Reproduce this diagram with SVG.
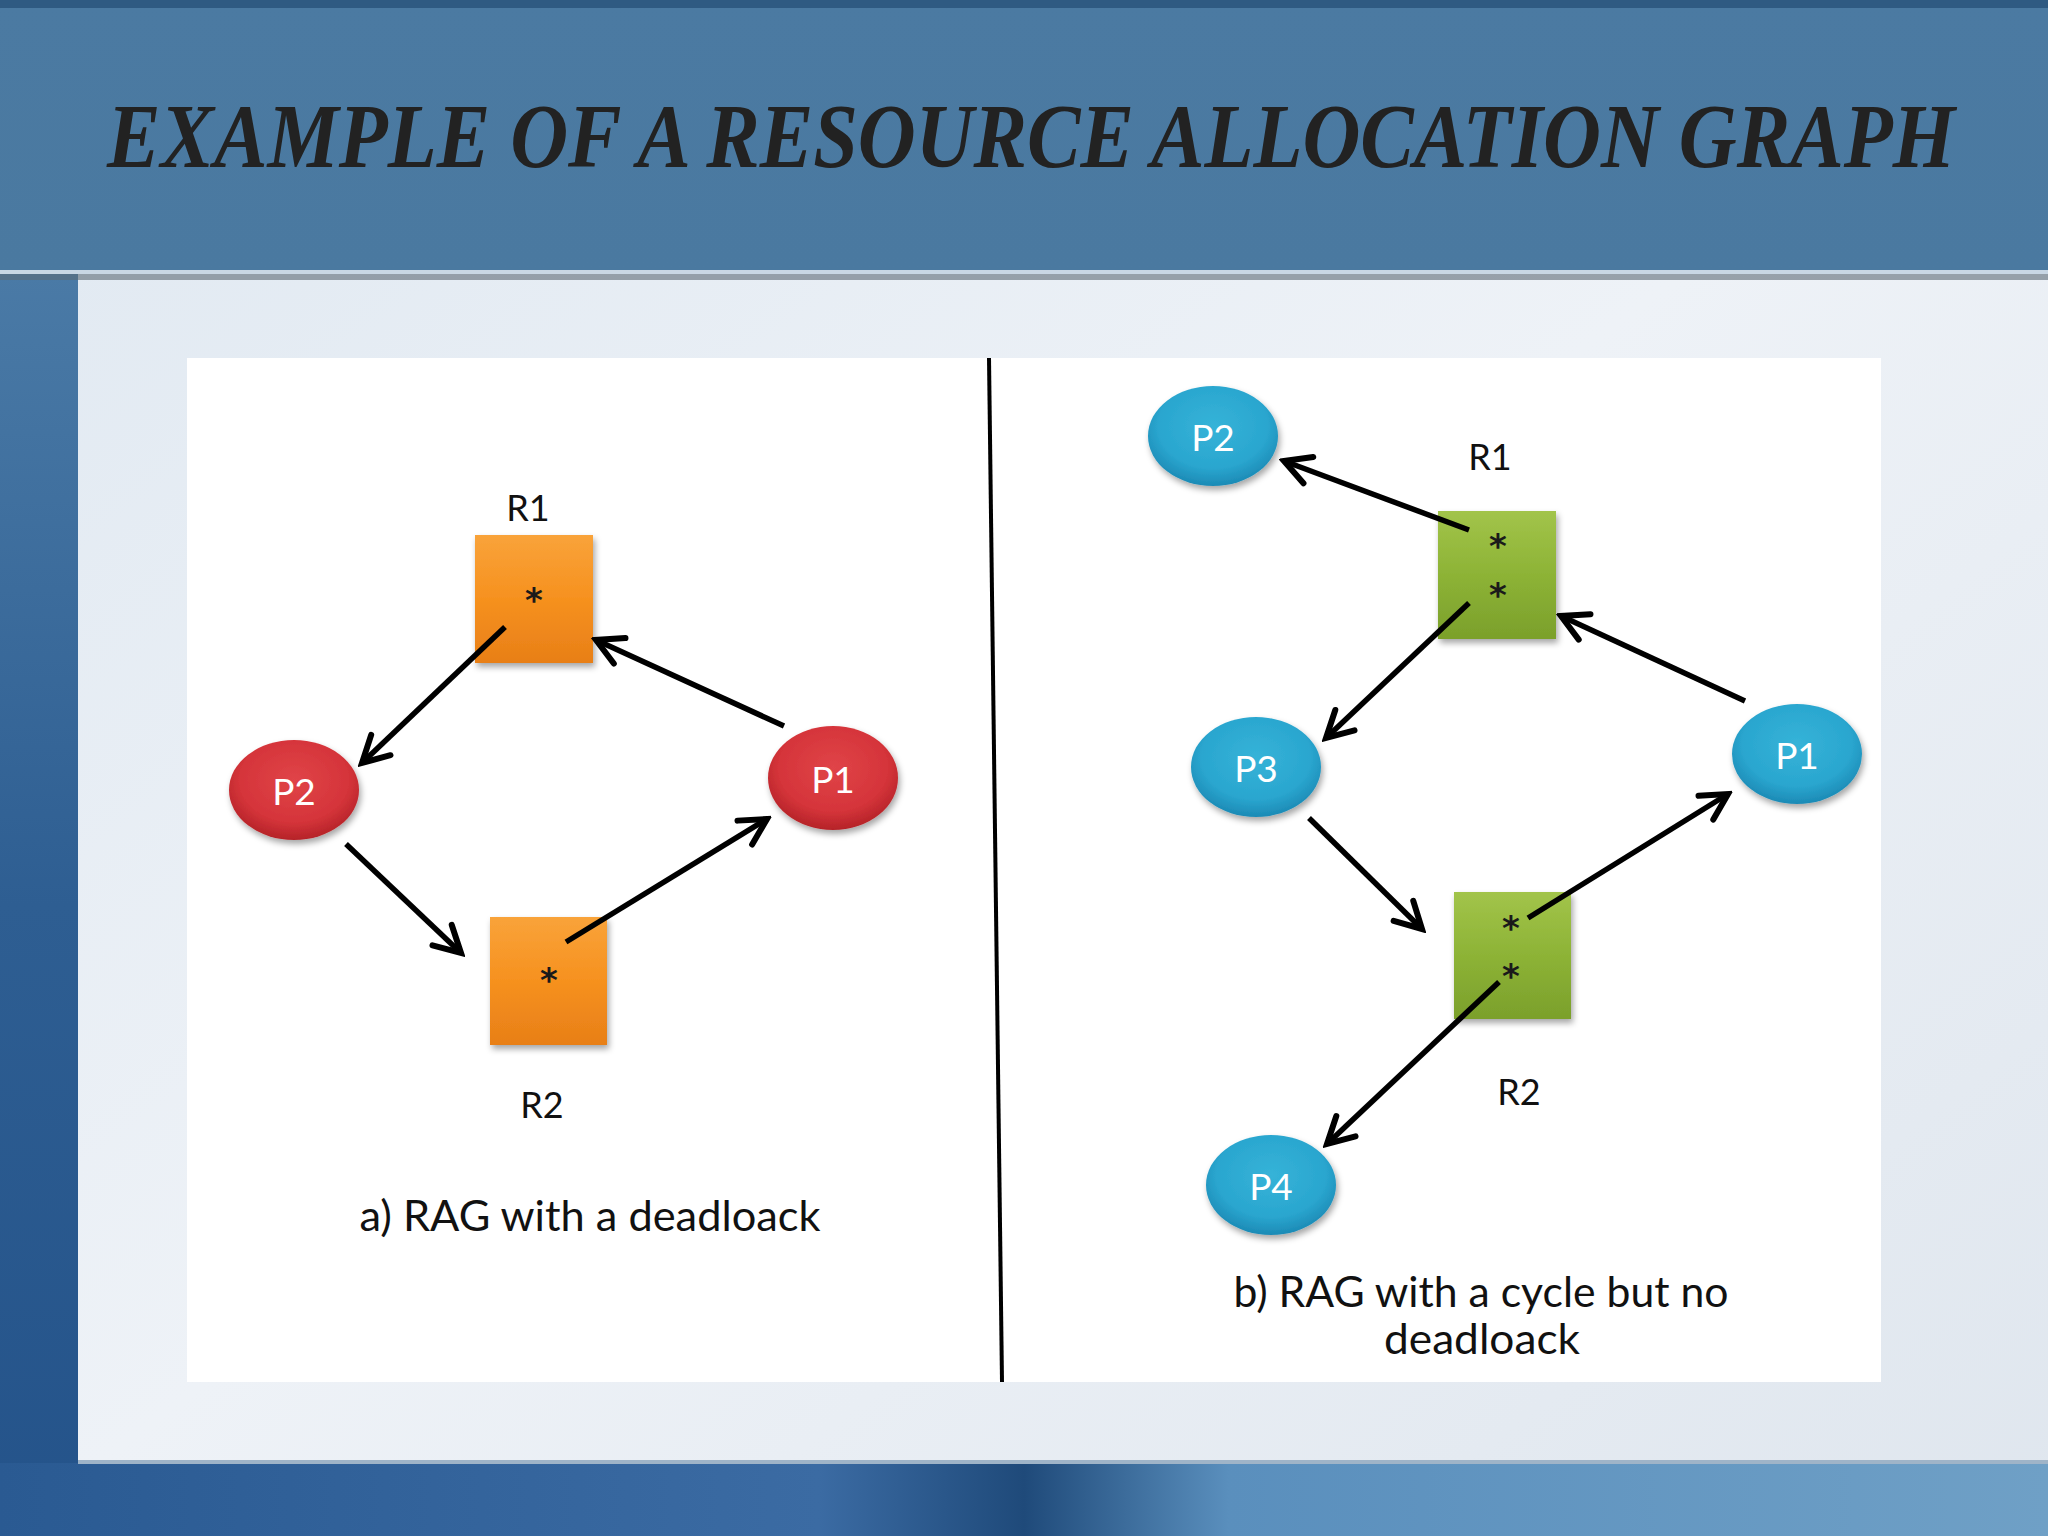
<svg xmlns="http://www.w3.org/2000/svg" width="2048" height="1536" viewBox="0 0 2048 1536">
<defs>
<linearGradient id="leftStrip" x1="0" y1="0" x2="0" y2="1">
<stop offset="0" stop-color="#4a7aa6"/><stop offset="0.5" stop-color="#2e5e92"/><stop offset="1" stop-color="#24538a"/>
</linearGradient>
<linearGradient id="bottomStrip" x1="0" y1="0" x2="1" y2="0">
<stop offset="0" stop-color="#2a5a92"/><stop offset="0.4" stop-color="#3b6ba3"/><stop offset="0.5" stop-color="#1f4a7a"/><stop offset="0.6" stop-color="#5a8fbd"/><stop offset="1" stop-color="#6fa0c6"/>
</linearGradient>
<linearGradient id="slideBg" x1="0" y1="0" x2="1" y2="1">
<stop offset="0" stop-color="#dfe8f1"/><stop offset="0.5" stop-color="#eef2f7"/><stop offset="1" stop-color="#dfe6ee"/>
</linearGradient>
<linearGradient id="header" x1="0" y1="0" x2="0" y2="1">
<stop offset="0" stop-color="#4b7aa2"/><stop offset="1" stop-color="#4a79a0"/>
</linearGradient>
<linearGradient id="orange" x1="0" y1="0" x2="0" y2="1">
<stop offset="0" stop-color="#f9a33a"/><stop offset="0.5" stop-color="#f6911f"/><stop offset="1" stop-color="#e87f17"/>
</linearGradient>
<linearGradient id="green" x1="0" y1="0" x2="0" y2="1">
<stop offset="0" stop-color="#a2c44a"/><stop offset="0.5" stop-color="#8db336"/><stop offset="1" stop-color="#7ba02b"/>
</linearGradient>
<radialGradient id="red" cx="0.5" cy="0.4" r="0.6">
<stop offset="0" stop-color="#e04448"/><stop offset="0.7" stop-color="#d5343a"/><stop offset="1" stop-color="#b52328"/>
</radialGradient>
<radialGradient id="blue" cx="0.5" cy="0.4" r="0.6">
<stop offset="0" stop-color="#35b3d8"/><stop offset="0.7" stop-color="#2aa6cf"/><stop offset="1" stop-color="#1c8ab5"/>
</radialGradient>
<filter id="shadow" x="-20%" y="-20%" width="150%" height="150%">
<feDropShadow dx="2" dy="4" stdDeviation="3" flood-color="#000" flood-opacity="0.35"/>
</filter>
<marker id="arrow" markerUnits="userSpaceOnUse" markerWidth="36" markerHeight="36" viewBox="0 0 36 36" refX="31" refY="18" orient="auto">
<path d="M5,4 L31,18 L5,32" fill="none" stroke="#000" stroke-width="6" stroke-linecap="round" stroke-linejoin="miter"/>
</marker>
<style>
.res-or{fill:url(#orange);filter:url(#shadow);}
.res-gr{fill:url(#green);filter:url(#shadow);}
.proc-red{fill:url(#red);filter:url(#shadow);}
.proc-blue{fill:url(#blue);filter:url(#shadow);}
.plabel{font-family:Lato,"Open Sans",sans-serif;font-size:37px;fill:#ffffff;text-anchor:middle;dominant-baseline:central;}
.rlabel{font-family:Lato,"Open Sans",sans-serif;font-size:36px;fill:#111;text-anchor:middle;dominant-baseline:central;}
.star{font-family:"DejaVu Sans",sans-serif;font-size:34px;font-weight:bold;fill:#1a1a1a;text-anchor:middle;dominant-baseline:central;}
.caption{font-family:Lato,"Open Sans",sans-serif;font-size:42px;fill:#111;text-anchor:middle;}
.edge{stroke:#000;stroke-width:5.5;fill:none;marker-end:url(#arrow);}
</style>
</defs>

<!-- background -->
<rect x="0" y="0" width="2048" height="1536" fill="url(#slideBg)"/>
<rect x="0" y="274" width="78" height="1262" fill="url(#leftStrip)"/>
<rect x="0" y="1463" width="2048" height="73" fill="url(#bottomStrip)"/>
<rect x="78" y="1460" width="1970" height="4" fill="#9fb4c8"/>
<rect x="0" y="0" width="2048" height="274" fill="url(#header)"/>
<rect x="0" y="0" width="2048" height="8" fill="#2f5a82"/>
<rect x="0" y="270" width="2048" height="4" fill="#c9d7e4"/>
<rect x="0" y="274" width="2048" height="6" fill="#5d6a77" opacity="0.6"/>

<text transform="translate(1031,167) scale(0.8,1)" x="0" y="0" font-family="'Liberation Serif','Times New Roman',serif" font-size="92" font-weight="bold" font-style="italic" fill="#222" text-anchor="middle" textLength="2310" lengthAdjust="spacingAndGlyphs">EXAMPLE OF A RESOURCE ALLOCATION GRAPH</text>

<!-- white panel -->
<rect x="187" y="358" width="1694" height="1024" fill="#ffffff"/>
<line x1="989" y1="358" x2="1002" y2="1382" stroke="#000" stroke-width="4"/>

<!-- left graph -->
<g id="a-R1">
<rect class="res-or" x="475" y="535" width="118" height="128"/>
<text class="star" x="534" y="600">*</text>
<text class="rlabel" x="528" y="507">R1</text>
</g>
<g id="a-R2">
<rect class="res-or" x="490" y="917" width="117" height="128"/>
<text class="star" x="549" y="980">*</text>
<text class="rlabel" x="542" y="1104">R2</text>
</g>
<g id="a-P2">
<ellipse class="proc-red" cx="294" cy="790" rx="65" ry="50"/>
<text class="plabel" x="294" y="790">P2</text>
</g>
<g id="a-P1">
<ellipse class="proc-red" cx="833" cy="778" rx="65" ry="52"/>
<text class="plabel" x="833" y="778">P1</text>
</g>
<g id="a-caption">
<text class="caption" x="590" y="1231" textLength="461" lengthAdjust="spacingAndGlyphs">a) RAG with a deadloack</text>
</g>

<!-- right graph -->
<g id="b-R1">
<rect class="res-gr" x="1438" y="511" width="118" height="128"/>
<text class="star" x="1498" y="546">*</text>
<text class="star" x="1498" y="595">*</text>
<text class="rlabel" x="1490" y="456">R1</text>
</g>
<g id="b-R2">
<rect class="res-gr" x="1454" y="892" width="117" height="127"/>
<text class="star" x="1511" y="928">*</text>
<text class="star" x="1511" y="976">*</text>
<text class="rlabel" x="1519" y="1091">R2</text>
</g>
<g id="b-P2">
<ellipse class="proc-blue" cx="1213" cy="436" rx="65" ry="50"/>
<text class="plabel" x="1213" y="436">P2</text>
</g>
<g id="b-P3">
<ellipse class="proc-blue" cx="1256" cy="767" rx="65" ry="50"/>
<text class="plabel" x="1256" y="767">P3</text>
</g>
<g id="b-P1">
<ellipse class="proc-blue" cx="1797" cy="754" rx="65" ry="50"/>
<text class="plabel" x="1797" y="754">P1</text>
</g>
<g id="b-P4">
<ellipse class="proc-blue" cx="1271" cy="1185" rx="65" ry="50"/>
<text class="plabel" x="1271" y="1185">P4</text>
</g>
<g id="b-caption">
<text class="caption" x="1481" y="1307" textLength="495" lengthAdjust="spacingAndGlyphs">b) RAG with a cycle but no</text>
<text class="caption" x="1482" y="1354" textLength="196" lengthAdjust="spacingAndGlyphs">deadloack</text>
</g>

<!-- connectors (drawn over the resource boxes, as in the picture) -->
<g id="connectors">
<line class="edge" x1="505" y1="627" x2="362" y2="763"/>
<line class="edge" x1="784" y1="726" x2="596" y2="640"/>
<line class="edge" x1="346" y1="844" x2="461" y2="953"/>
<line class="edge" x1="566" y1="942" x2="767" y2="819"/>
<line class="edge" x1="1469" y1="530" x2="1284" y2="461"/>
<line class="edge" x1="1469" y1="603" x2="1326" y2="738"/>
<line class="edge" x1="1745" y1="701" x2="1561" y2="616"/>
<line class="edge" x1="1309" y1="818" x2="1422" y2="929"/>
<line class="edge" x1="1528" y1="918" x2="1728" y2="794"/>
<line class="edge" x1="1499" y1="982" x2="1327" y2="1144"/>
</g>
</svg>
